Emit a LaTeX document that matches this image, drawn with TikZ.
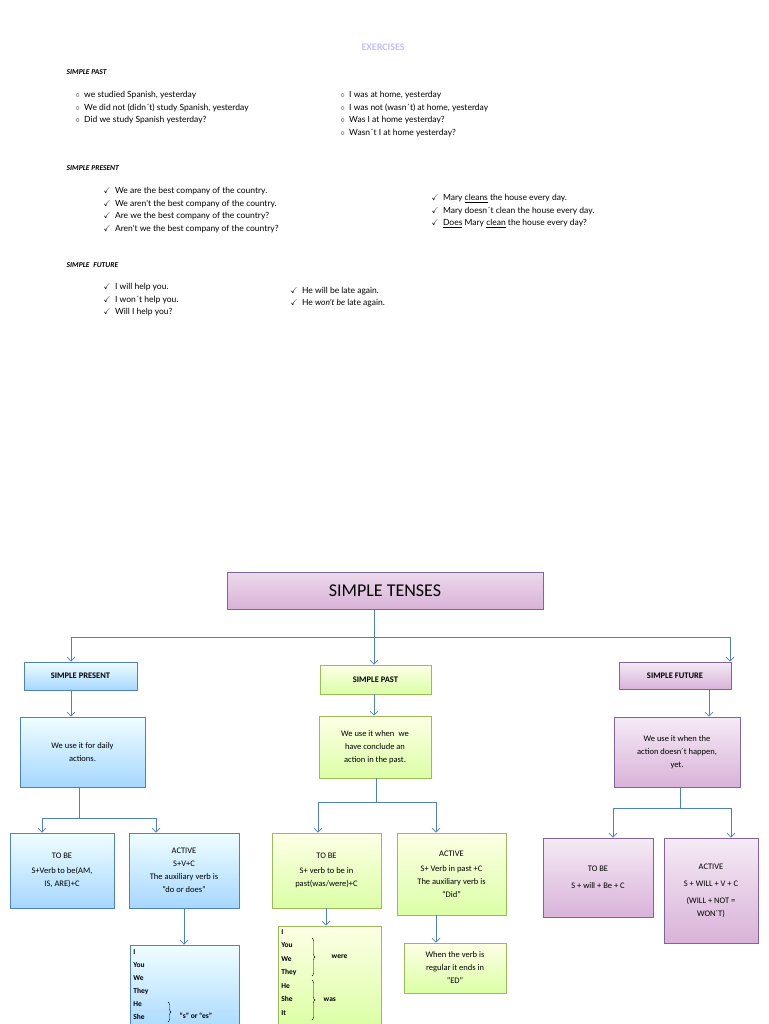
\documentclass[tikz,border=0pt]{standalone}
\usepackage{amssymb}
\usepackage{fontspec}
\setmainfont{Carlito}
\newfontfamily\gothic{Lato}
\usetikzlibrary{arrows.meta,decorations.pathreplacing}
\definecolor{bluebd}{HTML}{4F81BD}
\definecolor{greenbd}{HTML}{9BBB59}
\definecolor{purplebd}{HTML}{8064A2}
\begin{document}
\begin{tikzpicture}[x=1pt,y=-1pt, thick,
  blue box/.style={draw=bluebd, top color=blue!6!cyan!6, bottom color=blue!45!cyan!35, line width=0.8pt},
  green box/.style={draw=greenbd, top color=green!8!yellow!10, bottom color=green!40!yellow!35, line width=0.8pt},
  purple box/.style={draw=purplebd, top color=violet!8, bottom color=violet!30, line width=0.8pt},
  box text/.style={font=\fontsize{8.5}{13}\selectfont, align=center},
  link/.style={draw=bluebd, line width=0.7pt, -{Straight Barb[length=4pt]}},
  plain link/.style={draw=bluebd, line width=0.7pt},
  ex/.style={anchor=west, font=\gothic\fontsize{8.5}{12.5}\selectfont, align=left},
  head/.style={anchor=west, font=\fontsize{7.5}{9}\selectfont\bfseries\itshape}]
	\useasboundingbox (0,0) rectangle (768,1024);
	
	%exercises
	\node[font=\bfseries\fontsize{10}{10}\selectfont, text=blue!25] (ttl) at (383,47) {EXERCISES};
	\node[head] (hpast) at (63,72) {SIMPLE PAST};
	\node[ex] (past1) at (72,108) {$\circ$\enspace we studied Spanish, yesterday\\$\circ$\enspace We did not (didn´t) study Spanish, yesterday\\$\circ$\enspace Did we study Spanish yesterday?};
	\node[ex] (past2) at (337,114) {$\circ$\enspace I was at home, yesterday\\$\circ$\enspace I was not (wasn´t) at home, yesterday\\$\circ$\enspace Was I at home yesterday?\\$\circ$\enspace Wasn´t I at home yesterday?};
	\node[head] (hpres) at (63,168) {SIMPLE PRESENT};
	\node[ex] (pres1) at (100,210) {$\checkmark$\enspace We are the best company of the country.\\$\checkmark$\enspace We aren't the best company of the country.\\$\checkmark$\enspace Are we the best company of the country?\\$\checkmark$\enspace Aren't we the best company of the country?};
	\node[ex] (pres2) at (428,211) {$\checkmark$\enspace Mary \underline{cleans} the house every day.\\$\checkmark$\enspace Mary doesn´t clean the house every day.\\$\checkmark$\enspace \underline{Does} Mary \underline{clean} the house every day?};
	\node[head] (hfut) at (63,265) {SIMPLE\enspace FUTURE};
	\node[ex] (fut1) at (100,300) {$\checkmark$\enspace I will help you.\\$\checkmark$\enspace I won´t help you.\\$\checkmark$\enspace Will I help you?};
	\node[ex] (fut2) at (287,297) {$\checkmark$\enspace He will be late again.\\$\checkmark$\enspace He \textit{won't be} late again.};
	
	%diagram
	\node[purple box, top color=violet!15, minimum width=316pt, minimum height=37pt, font=\fontsize{18}{18}\selectfont] (tenses) at (385,590.5) {SIMPLE TENSES};
	\node[blue box, box text, minimum width=113pt, minimum height=28pt] (spres) at (80.5,676) {\bfseries SIMPLE PRESENT};
	\node[green box, box text, minimum width=111pt, minimum height=29pt] (spast) at (375.5,679.5) {\bfseries SIMPLE PAST};
	\node[purple box, box text, minimum width=112pt, minimum height=27pt] (sfut) at (675,675.5) {\bfseries SIMPLE FUTURE};
	\coordinate (hub) at (374,637);
	\draw[plain link] (tenses.south -| hub) -- (hub);
	\draw[plain link] (71,637) -- (730,637);
	\draw[link] (71,637) -- (spres.north -| 71,0);
	\draw[link] (hub) -- (spast.north -| hub);
	\draw[link] (730,637) -- (sfut.north -| 730,0);
	
	\node[blue box, box text, minimum width=125pt, minimum height=70pt] (puse) at (82.5,752) {We use it for daily\\actions.};
	\node[green box, box text, minimum width=112pt, minimum height=62pt] (pause) at (375,747) {We use it when\enspace we\\have conclude an\\action in the past.};
	\node[purple box, box text, minimum width=126pt, minimum height=70pt] (fuse) at (677,752) {We use it when the\\action doesn´t happen,\\yet.};
	\draw[link] (spres.south -| 71,0) -- (puse.north -| 71,0);
	\draw[link] (spast.south -| 374,0) -- (pause.north -| 374,0);
	\draw[link] (sfut.south -| 709,0) -- (fuse.north -| 709,0);
	
	%present branch
	\node[blue box, box text, minimum width=104pt, minimum height=75pt] (pbe) at (62,870.5) {TO BE\\[2pt]S+Verb to be(AM,\\IS, ARE)+C};
	\node[blue box, box text, minimum width=110pt, minimum height=75pt] (pact) at (184,870.5) {ACTIVE\\S+V+C\\The auxiliary verb is\\“do or does”};
	\draw[plain link] (puse.south -| 79,0) -- (79,818);
	\draw[plain link] (42,818) -- (156,818);
	\draw[link] (42,818) -- (pbe.north -| 42,0);
	\draw[link] (156,818) -- (pact.north -| 156,0);
	\node[blue box, minimum width=109pt, minimum height=90pt] (plist) at (184.5,990) {};
	\node[anchor=north west, font=\fontsize{7.5}{13}\selectfont\bfseries, align=left] (plistt) at ([yshift=-1pt]plist.north west) {I\\You\\We\\They\\He\\She};
	\draw[decorate, decoration={brace, amplitude=3pt}, thin] (168,1002) -- (168,1022);
	\node[anchor=west, font=\fontsize{7.5}{8}\selectfont\bfseries] (pses) at (176,1016) {“s” or “es”};
	\draw[link] (pact.south -| 184,0) -- (plist.north -| 184,0);
	
	%past branch
	\node[green box, box text, minimum width=109pt, minimum height=75pt] (pabe) at (326.5,870.5) {TO BE\\[2pt]S+ verb to be in\\past(was/were)+C};
	\node[green box, box text, minimum width=109pt, minimum height=82pt] (paact) at (451.5,874) {ACTIVE\\[2pt]S+ Verb in past +C\\The auxiliary verb is\\“Did”};
	\draw[plain link] (pause.south -| 376,0) -- (376,802);
	\draw[plain link] (318,802) -- (436,802);
	\draw[link] (318,802) -- (pabe.north -| 318,0);
	\draw[link] (436,802) -- (paact.north -| 436,0);
	\node[green box, minimum width=103pt, minimum height=100pt] (palist) at (329.5,976) {};
	\node[anchor=north west, font=\fontsize{7.5}{13.5}\selectfont\bfseries, align=left] (palistt) at (palist.north west) {I\\You\\We\\They\\He\\She\\It};
	\draw[decorate, decoration={brace, amplitude=3pt}, thin] (312,938) -- (312,976);
	\node[anchor=west, font=\fontsize{7.5}{8}\selectfont\bfseries] (pawere) at (328,957) {were};
	\draw[decorate, decoration={brace, amplitude=3pt}, thin] (312,980) -- (312,1020);
	\node[anchor=west, font=\fontsize{7.5}{8}\selectfont\bfseries] (pawas) at (320,1000) {was};
	\draw[link] (pabe.south -| 326,0) -- (palist.north -| 326,0);
	\node[green box, box text, minimum width=102pt, minimum height=50pt] (paed) at (455,968) {When the verb is\\regular it ends in\\“ED”};
	\draw[link] (paact.south -| 436,0) -- (paed.north -| 436,0);
	
	%future branch
	\node[purple box, box text, minimum width=110pt, minimum height=79pt] (fbe) at (598,877.5) {TO BE\\[4pt]S + will + Be + C};
	\node[purple box, box text, minimum width=94pt, minimum height=105pt] (fact) at (711,890.5) {ACTIVE\\[4pt]S + WILL + V + C\\[4pt](WILL + NOT =\\WON´T)};
	\draw[plain link] (fuse.south -| 680,0) -- (680,808);
	\draw[plain link] (613,808) -- (731,808);
	\draw[link] (613,808) -- (fbe.north -| 613,0);
	\draw[link] (731,808) -- (fact.north -| 731,0);
\end{tikzpicture}
\end{document}
